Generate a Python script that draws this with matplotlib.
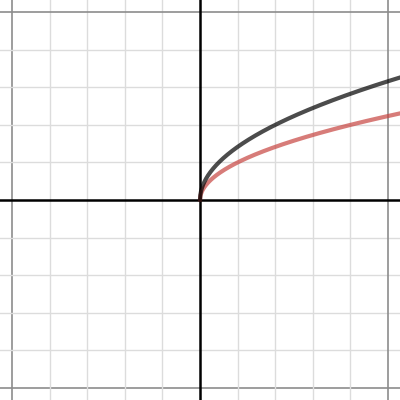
import numpy as np
import matplotlib.pyplot as plt

# view window (graph units) and the two curves
x_lim = (-5.333, 5.333)
y_lim = (-5.333, 5.333)
minor_step = 1
major_step = 5

x = np.linspace(0, 5.4, 600)
curves = [
    ('sqrt(x)', np.sqrt(x), '#c74440'),
    ('sqrt(2x)', np.sqrt(2 * x), '#000000'),
]

fig = plt.figure(figsize=(4, 4), dpi=100)
ax = fig.add_axes([0, 0, 1, 1])
ax.set_xlim(*x_lim)
ax.set_ylim(*y_lim)

# grid lines
for v in np.arange(-5, 6, minor_step):
    if v % major_step == 0:
        if v == 0:
            continue
        col, lw = '#8c8c8c', 1.2
    else:
        col, lw = '#dcdcdc', 1.0
    ax.axvline(v, color=col, lw=lw, zorder=1)
    ax.axhline(v, color=col, lw=lw, zorder=1)

# axes
ax.axvline(0, color='black', lw=1.8, zorder=2)
ax.axhline(0, color='black', lw=1.8, zorder=2)

for name, y, c in curves:
    ax.plot(x, y, color=c, alpha=0.7, lw=3, solid_capstyle='round', zorder=3)

ax.set_xticks([])
ax.set_yticks([])
for s in ax.spines.values():
    s.set_visible(False)

fig.savefig('out.png', dpi=100)
